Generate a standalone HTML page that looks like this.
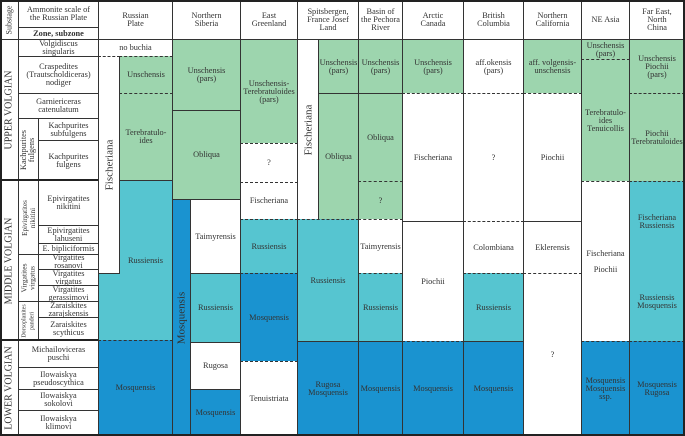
<!DOCTYPE html>
<html><head><meta charset="utf-8">
<style>
body{margin:0;background:#fff;}
#c{position:relative;width:685px;height:436px;overflow:hidden;font-family:"Liberation Serif",serif;color:#333;}
.b{position:absolute;box-sizing:border-box;border:1px solid #333;display:flex;align-items:center;justify-content:center;text-align:center;font-size:8.3px;line-height:8px;}
.v span{transform:rotate(-90deg);white-space:nowrap;}
</style></head><body>
<div id="c"></div>
<script>
const G='#9dd5ae',C='#56c5d0',B='#1a93d0',W='#fff';
// [x1,y1,x2,y2,bg,text,topDashed,vertical,fontsize,noLeftBorder]
const boxes=[
['0','0','18','39',W,'Substage',0,1,8],
[18,0,98,27,W,'Ammonite scale of<br>the Russian Plate'],
[18,27,98,39,W,'<b>Zone, subzone</b>'],
[98,0,172,39,W,'Russian<br>Plate'],
[172,0,240,39,W,'Northern<br>Siberia'],
[240,0,297,39,W,'East<br>Greenland'],
[297,0,358,39,W,'Spitsbergen,<br>France Josef<br>Land'],
[358,0,402,39,W,'Basin of<br>the Pechora<br>River'],
[402,0,463,39,W,'Arctic<br>Canada'],
[463,0,523,39,W,'British<br>Columbia'],
[523,0,581,39,W,'Northern<br>California'],
[581,0,629,39,W,'NE Asia'],
[629,0,684,39,W,'Far East,<br>North<br>China'],
[0,39,18,180,W,'UPPER VOLGIAN',0,1,10],
[0,180,18,340,W,'MIDDLE VOLGIAN',0,1,10],
[0,340,18,435,W,'LOWER VOLGIAN',0,1,10],
[18,39,98,56,W,'Volgidiscus<br>singularis'],
[18,56,98,93,W,'Craspedites<br>(Trautscholdiceras)<br>nodiger'],
[18,93,98,118,W,'Garniericeras<br>catenulatum'],
[18,118,38,180,W,'Kachpurites<br>fulgens',0,1],
[38,118,98,140,W,'Kachpurites<br>subfulgens'],
[38,140,98,180,W,'Kachpurites<br>fulgens'],
[18,180,38,254,W,'Epivirgatites<br>nikitini',0,1,7],
[38,180,98,225,W,'Epivirgatites<br>nikitini'],
[38,225,98,243,W,'Epivirgatites<br>lahuseni'],
[38,243,98,254,W,'E. bipliciformis'],
[18,254,38,301,W,'Virgatites<br>virgatus',0,1,7.5],
[38,254,98,269,W,'Virgatites<br>rosanovi'],
[38,269,98,285,W,'Virgatites<br>virgatus'],
[38,285,98,301,W,'Virgatites<br>gerassimovi'],
[18,301,38,340,W,'Dorsoplanites<br>panderi',0,1,6],
[38,301,98,317,W,'Zaraiskites<br>zarajskensis'],
[38,317,98,340,W,'Zaraiskites<br>scythicus'],
[18,340,98,367,W,'Michailoviceras<br>puschi'],
[18,367,98,389,W,'Ilowaiskya<br>pseudoscythica'],
[18,389,98,410,W,'Ilowaiskya<br>sokolovi'],
[18,410,98,435,W,'Ilowaiskya<br>klimovi'],
// Russian plate
[98,39,172,56,W,'no buchia'],
[98,273,172,340,C,'',1],
[119,180,172,340,C,'Russiensis',1,0,0,1],
[98,56,119,273,W,'Fischeriana',1,1,11],
[119,56,172,93,G,'Unschensis',1],
[119,93,172,180,G,'Terebratulo-<br>ides',1],
[98,340,172,435,B,'Mosquensis',1],
// N Siberia
[172,39,240,110,G,'Unschensis<br>(pars)'],
[172,110,240,199,G,'Obliqua'],
[172,199,190,435,B,'Mosquensis',0,1,11],
[190,199,240,273,W,'Taimyrensis'],
[190,273,240,342,C,'Russiensis'],
[190,342,240,389,W,'Rugosa'],
[190,389,240,435,B,'Mosquensis'],
// E Greenland
[240,39,297,143,G,'Unschensis-<br>Terebratuloides<br>(pars)'],
[240,143,297,182,W,'?',1],
[240,182,297,219,W,'Fischeriana',1],
[240,219,297,273,C,'Russiensis',1],
[240,273,297,361,B,'Mosquensis',1],
[240,361,297,435,W,'Tenuistriata',1],
// Spitsbergen
[297,39,318,219,W,'Fischeriana',0,1,11],
[318,39,358,93,G,'Unschensis<br>(pars)'],
[318,93,358,219,G,'Obliqua'],
[297,219,358,341,C,'Russiensis',1],
[297,341,358,435,B,'Rugosa<br>Mosquensis'],
// Pechora
[358,39,402,93,G,'Unschensis<br>(pars)'],
[358,93,402,181,G,'Obliqua'],
[358,181,402,219,G,'?',1],
[358,219,402,273,W,'Taimyrensis',1],
[358,273,402,341,C,'Russiensis',1],
[358,341,402,435,B,'Mosquensis'],
// Arctic Canada
[402,39,463,93,G,'Unschensis<br>(pars)'],
[402,93,463,221,W,'Fischeriana',1],
[402,221,463,341,W,'Piochii'],
[402,341,463,435,B,'Mosquensis',1],
// BC
[463,39,523,93,W,'aff.okensis<br>(pars)'],
[463,93,523,221,W,'?',1],
[463,221,523,273,W,'Colombiana',1],
[463,273,523,341,C,'Russiensis',1],
[463,341,523,435,B,'Mosquensis'],
// N California
[523,39,581,93,G,'aff. volgensis-<br>unschensis'],
[523,93,581,221,W,'Piochii',1],
[523,221,581,273,W,'Eklerensis'],
[523,273,581,435,W,'?',1],
// NE Asia
[581,39,629,59,G,'Unschensis<br>(pars)'],
[581,59,629,181,G,'Terebratulo-<br>ides<br>Tenuicollis',1],
[581,181,629,341,W,'Fischeriana<br><br>Piochii',1],
[581,341,629,435,B,'Mosquensis<br>Mosquensis<br>ssp.',1],
// Far East
[629,39,684,93,G,'Unschensis<br>Piochii<br>(pars)'],
[629,93,684,181,G,'Piochii<br>Terebratuloides',1],
[629,181,684,341,C,'Fischeriana<br>Russiensis<br><br><br><br><br><br><br><br><br>Russiensis<br>Mosquensis',1],
[629,341,684,435,B,'Mosquensis<br>Rugosa',1]
];
const c=document.getElementById('c');
boxes.forEach(function(d){
  const el=document.createElement('div');
  el.className='b'+(d[7]?' v':'');
  const x=+d[0],y=+d[1],w=+d[2]-x+1,h=+d[3]-y+1;
  el.style.left=x+'px';el.style.top=y+'px';el.style.width=w+'px';el.style.height=h+'px';
  el.style.background=d[4];
  if(d[6]) el.style.borderTop='1px dashed #333';
  if(d[8]) el.style.fontSize=d[8]+'px';
  if(d[9]){el.style.borderLeft='none';el.style.borderBottom='none';}
  el.innerHTML='<span>'+d[5]+'</span>';
  
  
  c.appendChild(el);
});
// frame & substage dividers
[[0,0,685,436,2],[0,179,98,2,0],[0,339,98,2,0]].forEach(function(f){
  const el=document.createElement('div');
  el.style.position='absolute';el.style.left=f[0]+'px';el.style.top=f[1]+'px';
  if(f[4]){el.style.width=(f[2]-4)+'px';el.style.height=(f[3]-4)+'px';el.style.border='2px solid #222';}
  else{el.style.width=f[2]+'px';el.style.height=f[3]+'px';el.style.background='#222';}
  
  
  c.appendChild(el);
});
</script>
</body></html>
